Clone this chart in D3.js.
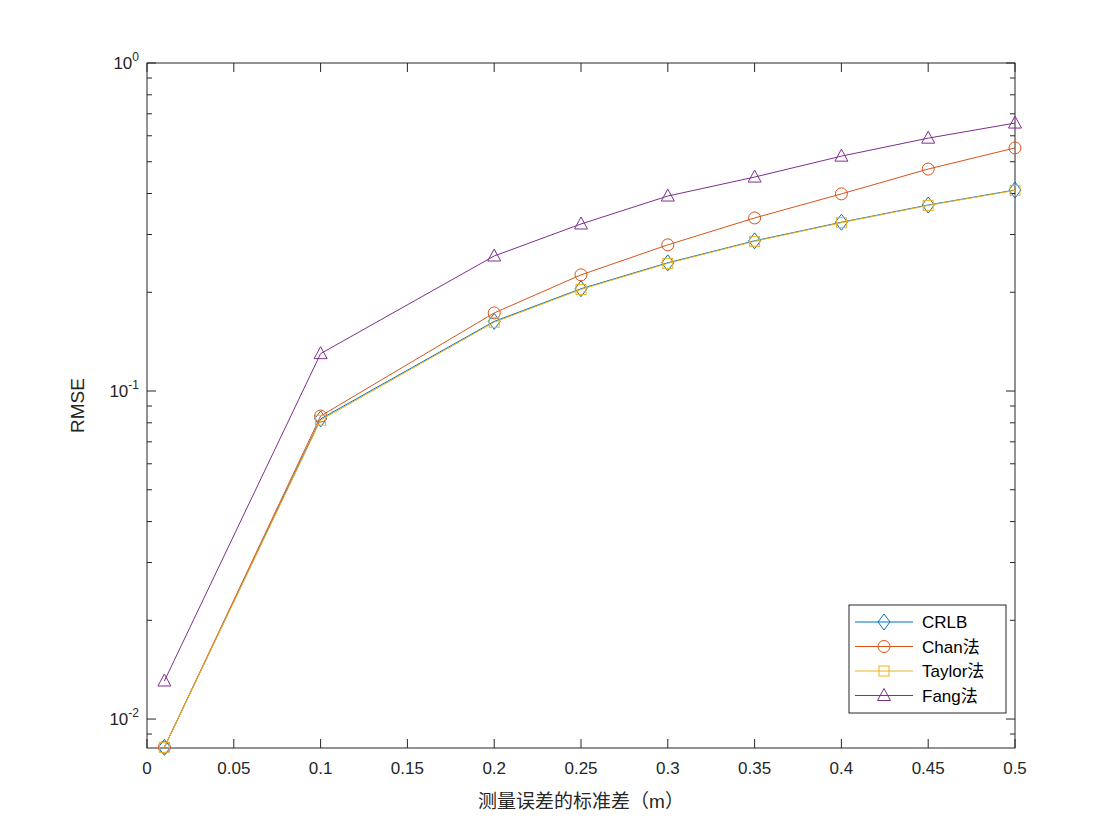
<!DOCTYPE html>
<html><head><meta charset="utf-8">
<script src="https://cdn.jsdelivr.net/npm/d3@7"></script>
<style>body{margin:0;background:#fff}svg{font-family:"Liberation Sans","Noto Sans CJK SC",sans-serif}</style>
</head><body><svg id="c" width="1120" height="840"></svg>
<script>
const xs = [0.01, 0.1, 0.2, 0.25, 0.3, 0.35, 0.4, 0.45, 0.5]
const crlb = [0.0082, 0.0822, 0.163, 0.205, 0.246, 0.287, 0.327, 0.369, 0.410]
const chan = [0.0082, 0.0839, 0.173, 0.226, 0.279, 0.337, 0.399, 0.475, 0.551]
const taylor = [0.0082, 0.0815, 0.162, 0.204, 0.245, 0.286, 0.326, 0.368, 0.409]
const fang = [0.01306, 0.130, 0.258, 0.323, 0.393, 0.449, 0.520, 0.590, 0.656]
const xTicks = [0, 0.05, 0.1, 0.15, 0.2, 0.25, 0.3, 0.35, 0.4, 0.45, 0.5]
const series = [
  {name: "CRLB", v: crlb, color: "#0072bd", sym: "diamond"},
  {name: "Chan法", v: chan, color: "#d95319", sym: "circle"},
  {name: "Taylor法", v: taylor, color: "#edb120", sym: "square"},
  {name: "Fang法", v: fang, color: "#7e2f8e", sym: "triangle"}
]
const margin = {top: 63, right: 105, bottom: 92, left: 147}
const width = 1120, height = 840
const svg = d3.select("#c")
const x = d3.scaleLinear().domain([0, 0.5]).range([margin.left, width - margin.right])
const y = d3.scaleLog().domain([0.00816, 1]).range([height - margin.bottom, margin.top])
const x0 = margin.left, x1 = width - margin.right, y0 = height - margin.bottom, y1 = margin.top
const axc = "#262626"

// box + ticks
svg.append("rect").attr("x", x0).attr("y", y1).attr("width", x1 - x0).attr("height", y0 - y1)
  .attr("fill", "none").attr("stroke", axc).attr("stroke-width", 1)
const g = svg.append("g").attr("stroke", axc)
xTicks.forEach(t => {
  g.append("line").attr("x1", x(t)).attr("x2", x(t)).attr("y1", y0).attr("y2", y0 - 9)
  g.append("line").attr("x1", x(t)).attr("x2", x(t)).attr("y1", y1).attr("y2", y1 + 9)
  svg.append("text").attr("x", x(t)).attr("y", y0 + 26).attr("text-anchor", "middle")
    .attr("font-size", 17).attr("fill", axc).text(d3.format("")(t))
})
const minors = []
for (let e = -3; e < 0; e++) for (let m = 1; m < 10; m++) {
  const v = m * Math.pow(10, e)
  if (v >= 0.00816 && v <= 1) minors.push({v, major: m === 1})
}
minors.push({v: 1, major: true})
minors.forEach(d => {
  const L = d.major ? 9 : 5
  g.append("line").attr("x1", x0).attr("x2", x0 + L).attr("y1", y(d.v)).attr("y2", y(d.v))
  g.append("line").attr("x1", x1).attr("x2", x1 - L).attr("y1", y(d.v)).attr("y2", y(d.v))
  if (d.major) {
    const e = Math.round(Math.log10(d.v))
    const t = svg.append("text").attr("x", x0 - 8).attr("y", y(d.v) + 6).attr("text-anchor", "end")
      .attr("font-size", 17).attr("fill", axc)
    t.append("tspan").text("10")
    t.append("tspan").attr("dy", -8).attr("font-size", 12).text(e)
  }
})
svg.append("text").attr("x", (x0 + x1) / 2).attr("y", 808).attr("text-anchor", "middle")
  .attr("font-size", 19).attr("fill", axc).text("测量误差的标准差（m）")
svg.append("text").attr("transform", `translate(84,${(y0 + y1) / 2}) rotate(-90)`)
  .attr("text-anchor", "middle").attr("font-size", 19).attr("fill", axc).text("RMSE")

function marker(sel, sym, color) {
  if (sym === "circle") sel.append("circle").attr("r", 6)
  else if (sym === "square") sel.append("rect").attr("x", -5).attr("y", -5).attr("width", 10).attr("height", 10)
  else if (sym === "diamond") sel.append("path").attr("d", "M0,-8L6,0L0,8L-6,0Z")
  else sel.append("path").attr("d", "M0,-7L6.5,5L-6.5,5Z")
  sel.selectAll("*").attr("fill", "none").attr("stroke", color).attr("stroke-width", 1)
}
const line = d3.line().x((d, i) => x(xs[i])).y(d => y(d))
series.forEach(s => {
  svg.append("path").datum(s.v).attr("d", line).attr("fill", "none").attr("stroke", s.color).attr("stroke-width", 1)
  s.v.forEach((v, i) => marker(svg.append("g").attr("transform", `translate(${x(xs[i])},${y(v)})`), s.sym, s.color))
})

// legend
const lg = svg.append("g").attr("transform", "translate(849,605)")
lg.append("rect").attr("width", 157).attr("height", 108).attr("fill", "#fff").attr("stroke", axc)
series.forEach((s, i) => {
  const yy = 17 + i * 24.5
  lg.append("line").attr("x1", 6).attr("x2", 64).attr("y1", yy).attr("y2", yy).attr("stroke", s.color)
  marker(lg.append("g").attr("transform", `translate(35,${yy})`), s.sym, s.color)
  lg.append("text").attr("x", 73).attr("y", yy + 6).attr("font-size", 17).attr("fill", "#000").text(s.name)
})
</script></body></html>
